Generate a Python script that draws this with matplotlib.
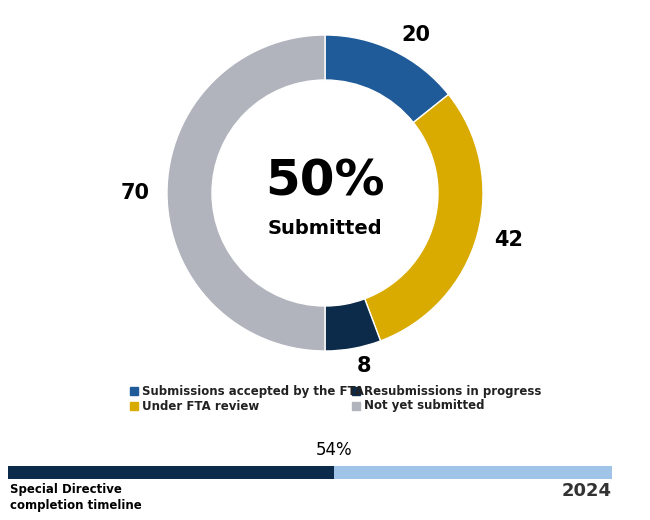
import matplotlib.pyplot as plt
from matplotlib.patches import Rectangle

# donut data
categorias = ["Submissions accepted by the FTA", "Under FTA review",
              "Resubmissions in progress", "Not yet submitted"]
valores = [20, 42, 8, 70]
cores = ["#1f5b98", "#d9aa00", "#0c2b4b", "#b1b4bd"]
percent_submetido = 50
percent_timeline = 54
ano = "2024"

W, H = 650, 520
fig = plt.figure(figsize=(6.5, 5.2), dpi=100)

# axes do donut, em pixeis
cx, cy, half = 325, 193, 200
ax = fig.add_axes([(cx - half) / W, (H - cy - half) / H, 2 * half / W, 2 * half / H])
ax.pie(valores, colors=cores, startangle=90, counterclock=False, radius=158,
       labels=[str(v) for v in valores], labeldistance=1.11,
       wedgeprops=dict(width=45, edgecolor="white", linewidth=1),
       textprops=dict(fontsize=15, fontweight="bold", color="black"))
ax.set_xlim(-half, half)
ax.set_ylim(-half, half)
ax.set_aspect("equal")
ax.axis("off")
ax.text(0, 12, f"{percent_submetido}%", ha="center", va="center", fontsize=36, fontweight="bold")
ax.text(0, -36, "Submitted", ha="center", va="center", fontsize=14, fontweight="bold")

# legenda
ordem = [0, 1, 2, 3]
pos_leg = [(130, 391), (130, 406), (352, 391), (352, 406)]
for i, (x, y) in zip(ordem, pos_leg):
    fig.patches.append(Rectangle((x / W, (H - y - 4) / H), 8 / W, 8 / H,
                                 transform=fig.transFigure, color=cores[i]))
    fig.text((x + 12) / W, (H - y) / H, categorias[i], fontsize=8.5,
             fontweight="bold", va="center", color="#222222")

# timeline
ax2 = fig.add_axes([8 / W, (H - 479) / H, 604 / W, 13 / H])
ax2.barh([0], [percent_timeline], color="#0c2b4b", height=1)
ax2.barh([0], [100 - percent_timeline], left=[percent_timeline], color="#a0c3e8", height=1)
ax2.set_xlim(0, 100)
ax2.set_ylim(-0.5, 0.5)
ax2.axis("off")
fig.text((8 + 604 * percent_timeline / 100) / W, (H - 450) / H, f"{percent_timeline}%",
         ha="center", va="center", fontsize=12)
fig.text(10 / W, (H - 498) / H, "Special Directive\ncompletion timeline",
         fontsize=8.5, fontweight="bold", va="center", linespacing=1.3)
fig.text(612 / W, (H - 491) / H, ano, ha="right", va="center", fontsize=13,
         fontweight="bold", color="#333333")

fig.savefig("out.png", dpi=100)
